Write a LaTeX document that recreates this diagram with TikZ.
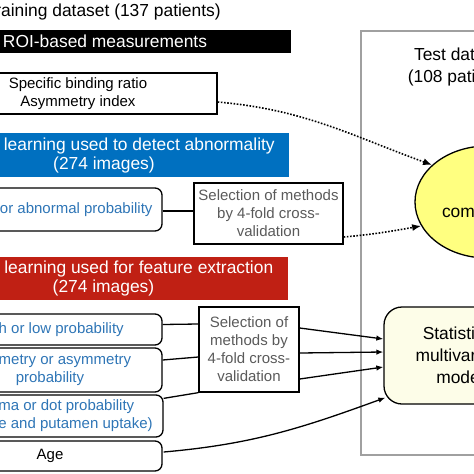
\documentclass[tikz,border=0pt]{standalone}
\usepackage{fontspec}
\setmainfont{Liberation Sans}
\usetikzlibrary{arrows.meta,shapes.geometric,calc}
\definecolor{barblue}{RGB}{0,112,192}
\definecolor{barred}{RGB}{192,32,20}
\definecolor{txtblue}{RGB}{46,117,182}
\definecolor{txtgrey}{RGB}{90,90,90}
\definecolor{ellyellow}{RGB}{255,255,128}
\definecolor{cream}{RGB}{253,253,232}
\definecolor{framegrey}{RGB}{160,160,160}
\begin{document}
\begin{tikzpicture}[x=1pt,y=-1pt,
  big/.style={font=\fontsize{17.4}{19}\selectfont},
  bigwide/.style={font=\fontsize{17.4}{22}\selectfont},
  small/.style={font=\fontsize{15}{18}\selectfont},
  bar/.style={big, text=white, inner sep=0pt, align=center, minimum width=372pt},
  box/.style={small, draw=black, line width=1.3pt, inner sep=0pt, align=center},
  rbox/.style={box, rounded corners=7pt, text=txtblue, minimum width=224pt},
  selbox/.style={box, text=txtgrey},
  conn/.style={line width=1.3pt},
  arr/.style={conn, -{Latex[length=7pt,width=5.5pt]}},
  dotarr/.style={line width=1.6pt, dash pattern=on 1.6pt off 1.6pt, -{Latex[length=9pt,width=7pt]}},
]
\useasboundingbox (0,0) rectangle (474,474);

% test dataset frame
\node[draw=framegrey, line width=2pt, minimum width=259pt, minimum height=424pt, inner sep=0pt] (testbox) at (490.5,243) {};
\node[bigwide, align=center] (testlbl) at (461,67) {Test dataset\\(108 patients)};

% title and bars
\node[big, anchor=base] (title) at (103,16) {Training dataset (137 patients)};
\node[bar, fill=black, minimum height=23pt] (roi) at (105,41.5) {ROI-based measurements};
\node[bar, fill=barblue, minimum width=370pt, minimum height=44pt] (mlabn) at (104,155) {Machine learning used to detect abnormality\\(274 images)};
\node[bar, fill=barred, minimum width=369pt, minimum height=43pt] (mlfeat) at (103.5,278.5) {Machine learning used for feature extraction\\(274 images)};

% left boxes
\node[box, minimum width=278pt, minimum height=41pt] (sbr) at (78,93.5) {Specific binding ratio\\Asymmetry index};
\node[rbox, minimum height=43pt] (nap) at (50,209.5) {Normal or abnormal probability};
\node[rbox, minimum height=31pt] (hlp) at (50,329.5) {High or low probability};
\node[rbox, minimum height=44pt] (sap) at (50,370) {Symmetry or asymmetry\\probability};
\node[rbox, minimum width=225pt, minimum height=42pt] (cdp) at (50.5,416) {Comma or dot probability\\(caudate and putamen uptake)};
\node[rbox, text=black, minimum height=30pt] (age) at (50,456) {Age};

% selection boxes
\node[selbox, minimum width=149pt, minimum height=61pt] (sel1) at (268.5,213.5) {Selection of methods\\by 4-fold cross-\\validation};
\node[selbox, minimum width=100pt, minimum height=85pt] (sel2) at (249,349.5) {Selection of\\methods by\\4-fold cross-\\validation};

% right side
\node[ellipse, draw=black, line width=1.3pt, fill=ellyellow, minimum width=144pt, minimum height=112pt, inner sep=0pt] (ell) at (487,202) {};
\node[big] (cmp) at (487,213) {comparison};
\node[box, bigwide, rounded corners=18pt, fill=cream, minimum width=152pt, minimum height=97pt] (stat) at (460,355.5) {Statistical\\multivariate\\model};

% connectors
\draw[conn] ($(nap.east)+(0,1.5)$) -- ($(sel1.west)+(0,-2.5)$);
\draw[conn] ($(hlp.east)+(0,-5)$) -- ($(sel2.west)+(0,-25.5)$);
\draw[conn] ($(sap.east)+(0,-10)$) -- ($(sel2.west)+(0,7.5)$);
\draw[conn] ($(cdp.north east)+(0,4)$) -- (sel2.south west);
\draw[arr] ($(sel2.east)+(0,-21.5)$) -- ($(stat.west)+(0,-16.5)$);
\draw[arr] ($(sel2.east)+(0,3.5)$) -- ($(stat.west)+(0,-3.5)$);
\draw[arr] ($(sel2.east)+(0,29.5)$) -- ($(stat.west)+(0,11.5)$);
\draw[arr] ($(age.east)+(1,-4)$) to[out=5,in=200] ($(stat.south west)+(2,-7)$);
\draw[dotarr] ($(sbr.east)+(0,8.5)$) to[out=-5,in=160] (ell.146);
\draw[dotarr] ($(sel1.east)+(0,23.5)$) to[out=5,in=190] (ell.200);
\end{tikzpicture}
\end{document}
